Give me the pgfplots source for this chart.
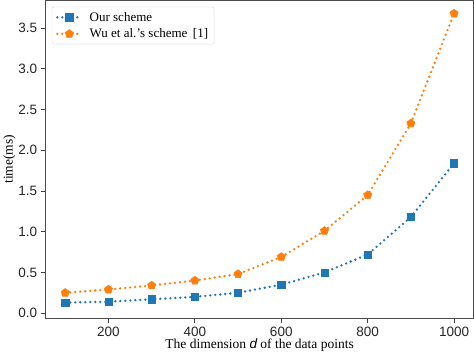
\documentclass[border=0pt]{standalone}
\usepackage{fontspec}
\setmainfont{Liberation Serif}
\setsansfont{Liberation Sans}
\usepackage{pgfplots}
\pgfplotsset{compat=1.18}
\definecolor{tabblue}{HTML}{1F77B4}
\definecolor{taborange}{HTML}{FF7F0E}
\begin{document}
\begin{tikzpicture}
\begin{axis}[
  scale only axis,
  width=427pt, height=317pt,
  xmin=55, xmax=1045,
  ymin=-0.06, ymax=3.84,
  xtick={200,400,600,800,1000},
  ytick={0,0.5,1,1.5,2,2.5,3,3.5},
  xticklabel style={/pgf/number format/.cd,1000 sep={}},
  yticklabel style={/pgf/number format/.cd,fixed,fixed zerofill,precision=1},
  /pgf/number format/assume math mode=true,
  ticklabel style={font=\fontsize{13.5}{13.5}\selectfont\sffamily, text=black!85},
  tick align=outside,
  major tick length=5pt,
  tick style={black!75, line width=0.8pt},
  axis line style={black!70, line width=1pt},
  xtick pos=bottom, ytick pos=left,
  xlabel={The dimension {\sffamily\itshape d} of the data points},
  ylabel={time(ms)},
  label style={font=\fontsize{13.5}{13.5}\selectfont},
  xlabel style={yshift=4pt},
  ylabel style={yshift=-4pt},
  legend style={font=\fontsize{13}{13}\selectfont, draw=black!15, rounded corners=2pt, at={(0.014,0.98)}, anchor=north west, inner xsep=4pt, inner ysep=3pt, row sep=2pt, /tikz/every odd column/.append style={column sep=5pt}},
  legend image code/.code={\draw[mark repeat=2,mark phase=2] plot coordinates {(0pt,0pt) (12pt,0pt) (24pt,0pt)};},
  legend cell align=left,
]
\addplot[color=tabblue, line width=2.6pt, line cap=round, dash pattern=on 0pt off 5pt, mark=square*, mark size=3.6pt, mark options={solid, fill=tabblue, line width=0.5pt}]
coordinates {(100,0.13) (200,0.14) (300,0.17) (400,0.20) (500,0.25) (600,0.35) (700,0.50) (800,0.72) (900,1.18) (1000,1.84)};
\addlegendentry{Our scheme}
\addplot[color=taborange, line width=2.6pt, line cap=round, dash pattern=on 0pt off 5pt, mark=pentagon*, mark size=4.3pt, mark options={solid, fill=taborange, line width=0.5pt}]
coordinates {(100,0.25) (200,0.29) (300,0.34) (400,0.40) (500,0.48) (600,0.69) (700,1.01) (800,1.45) (900,2.33) (1000,3.68)};
\addlegendentry{Wu et al.'s scheme\ \,[1]}
\end{axis}
\end{tikzpicture}
\end{document}
